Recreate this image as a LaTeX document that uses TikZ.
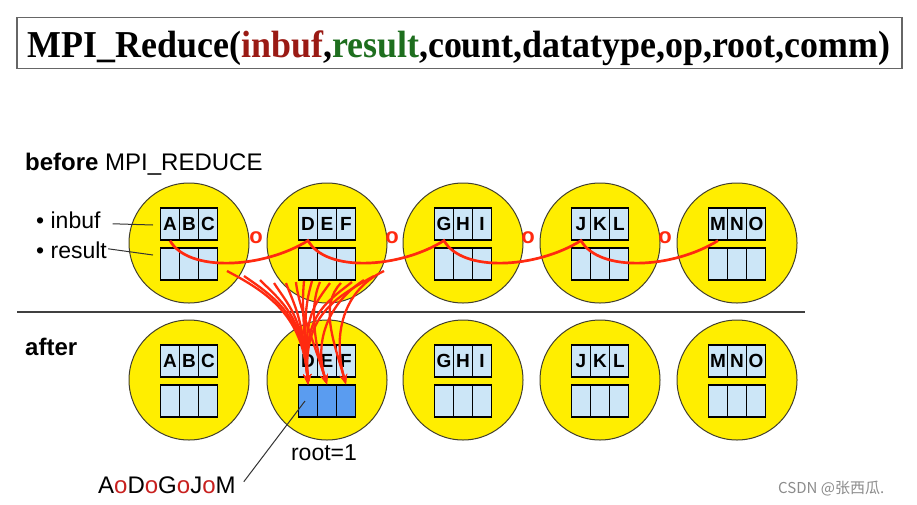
\documentclass[tikz,border=0pt]{standalone}
\usepackage{fontspec}
\setmainfont{Liberation Sans}
\newfontfamily\titlefont{Liberation Serif}
\newfontfamily\cjk{Noto Sans CJK SC}
\usetikzlibrary{arrows.meta,calc}
\definecolor{procyellow}{HTML}{FFEE00}
\definecolor{cellblue}{HTML}{CCE6F7}
\definecolor{rootblue}{HTML}{5A9CF0}
\definecolor{redline}{HTML}{FF2A10}
\definecolor{ored}{HTML}{C8201E}
\definecolor{inred}{HTML}{9A1A14}
\definecolor{resgreen}{HTML}{1E6E1E}
\begin{document}
\begin{tikzpicture}[x=1pt,y=-1pt,
  proc/.style={circle, draw=black!70!olive, line width=1pt, fill=procyellow, minimum size=120pt, inner sep=0pt},
  cellbox/.style={draw=black, line width=1.2pt, fill=cellblue, minimum width=19pt, minimum height=32pt, inner sep=0pt, font=\fontsize{19}{19}\selectfont\bfseries},
  rootcell/.style={cellbox, fill=rootblue},
  lbl/.style={font=\fontsize{23}{23}\selectfont, inner sep=0pt},
  biglbl/.style={font=\fontsize{24}{24}\selectfont, inner sep=0pt},
  redarc/.style={draw=redline, line width=2.7pt},
  fan/.style={draw=redline, line width=2.3pt, -{Stealth[length=10pt,width=8pt]}},
  opo/.style={text=redline, font=\fontsize{22}{22}\selectfont\bfseries, inner sep=0pt},
  pointer/.style={draw=black!80, line width=1pt}
]
\useasboundingbox (0,0) rectangle (917,504);
\fill[white] (0,0) rectangle (917,504);

% title
\node[draw=black!60, line width=1.2pt, minimum width=885pt, minimum height=51pt, inner sep=0pt] (title) at (459.5,43) {};
\node[font=\titlefont\bfseries\fontsize{38}{38}\selectfont, xscale=0.945, inner sep=0pt, anchor=base] (ttext) at (459,57) {MPI\_Reduce(\textcolor{inred}{inbuf},\textcolor{resgreen}{result},count,datatype,op,root,comm)};

% section labels
\node[biglbl, anchor=base west] (before) at (25,170) {\textbf{before} MPI\_REDUCE};
\node[biglbl, anchor=base west] (after) at (25,355) {\textbf{after}};

% separator
\draw[line width=1.6pt, black!75] (17,312) -- (805,312);

% top row
\foreach \i/\cx/\a/\b/\c in {1/189/A/B/C,2/327/D/E/F,3/463/G/H/I,4/600/J/K/L,5/737/M/N/O}{
  \node[proc] (t\i) at (\cx,243) {};
  \node[cellbox] (ti\i-1) at (\cx-19,224) {\a};
  \node[cellbox] (ti\i-2) at (\cx,224) {\b};
  \node[cellbox] (ti\i-3) at (\cx+19,224) {\c};
  \node[cellbox] (tr\i-1) at (\cx-19,264) {};
  \node[cellbox] (tr\i-2) at (\cx,264) {};
  \node[cellbox] (tr\i-3) at (\cx+19,264) {};
}
% bottom row
\foreach \i/\cx/\a/\b/\c/\rs in {1/189/A/B/C/cellbox,2/327/D/E/F/rootcell,3/463/G/H/I/cellbox,4/600/J/K/L/cellbox,5/737/M/N/O/cellbox}{
  \node[proc] (b\i) at (\cx,380) {};
  \node[cellbox] (bi\i-1) at (\cx-19,361) {\a};
  \node[cellbox] (bi\i-2) at (\cx,361) {\b};
  \node[cellbox] (bi\i-3) at (\cx+19,361) {\c};
  \node[\rs] (br\i-1) at (\cx-19,401) {};
  \node[\rs] (br\i-2) at (\cx,401) {};
  \node[\rs] (br\i-3) at (\cx+19,401) {};
}

% side labels
\node[lbl, anchor=base west] (linbuf) at (36,228) {\textbullet\ inbuf};
\node[lbl, anchor=base west] (lresult) at (36,258) {\textbullet\ result};
\coordinate (inbufend) at (153,225);
\coordinate (resultend) at (153,255);
\draw[pointer] ([xshift=12pt,yshift=-4pt]linbuf.east) -- (inbufend);
\draw[pointer] ([xshift=1pt,yshift=1pt]lresult.east) -- (resultend);

% operator symbols
\foreach \n/\x in {1/256,2/392,3/528,4/665}{
  \node[opo] (op\n) at (\x,238) {o};
}

% combining arcs
\draw[redarc] (ti1-1.south)
  .. controls +(18,32) and +(-45,28) .. (ti2-1.south)
  .. controls +(18,32) and +(-45,28) .. (ti3-1.south)
  .. controls +(18,32) and +(-45,28) .. (ti4-1.south)
  .. controls +(18,32) and +(-45,28) .. (ti5-1.south);

% fan of reductions to root
\foreach \n/\x/\y in {1/227/271,2/244/276,3/260/280,4/274/283,5/286/283,6/296/282,7/304/281,8/312/281,9/320/282,10/330/283,11/341/283,12/352/282,13/364/280,14/374/276,15/384/271}{
  \coordinate (f\n) at (\x,\y);
}
\foreach \n/\t/\ux/\vx/\vy in {1/1/42/-5/-68,2/1/32/-5/-68,3/1/22/-5/-68,4/1/14/-5/-68,5/1/8/-5/-68,6/2/2/-14/-45,7/1/-2/-5/-68,8/1/-6/-5/-68,9/2/-10/-14/-45,10/1/-16/-5/-68,11/3/-22/-12/-42,12/1/-28/-5/-68,13/2/-34/-14/-45,14/1/-40/-5/-68,15/3/-46/-12/-42}{
  \draw[fan] (f\n) .. controls +(\ux,22) and +(\vx,\vy) .. (br2-\t.north);
}

% root annotation
\node[lbl, anchor=base] (rootlbl) at (324,460) {root=1};
\node[biglbl, anchor=base west] (agg) at (98,493) {A\textcolor{ored}{o}D\textcolor{ored}{o}G\textcolor{ored}{o}J\textcolor{ored}{o}M};
\draw[pointer] ([xshift=8pt,yshift=3pt]agg.east) -- ([xshift=-3pt]br2-1.center);

% watermark
\node[font=\cjk\fontsize{15}{15}\selectfont, text=black!45, anchor=base west, inner sep=0pt] (wm) at (778,493) {CSDN @张西瓜.};
\end{tikzpicture}
\end{document}
